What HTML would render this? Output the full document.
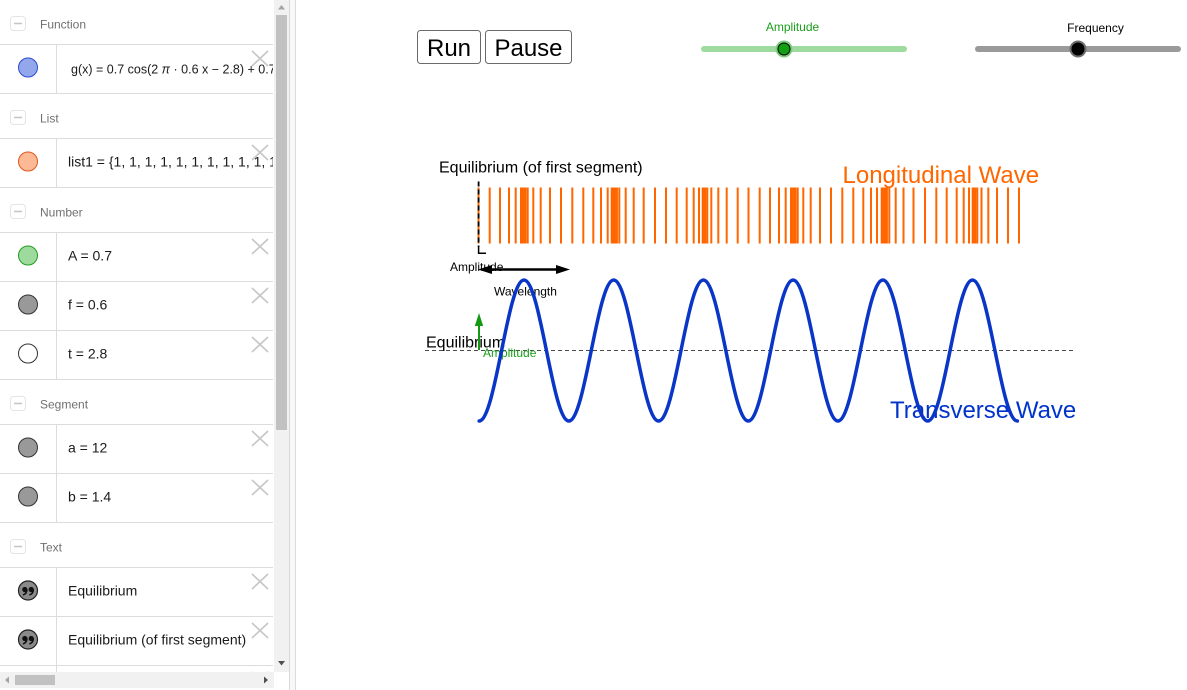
<!DOCTYPE html>
<html>
<head>
<meta charset="utf-8">
<style>
html,body{margin:0;padding:0;background:#fff;}
body{width:1187px;height:690px;overflow:hidden;position:relative;}
svg{display:block;font-family:"Liberation Sans",Arial,sans-serif;}
.hd{font-size:12px;fill:#707070;}
.it{font-size:14px;fill:#1a1a1a;}
.x{stroke:#c6c6c6;stroke-width:1.6;fill:none;}
.sep{stroke:#dcdcdc;stroke-width:1;}
</style>
</head>
<body>
<svg width="1187" height="690" viewBox="0 0 1187 690" xmlns="http://www.w3.org/2000/svg">
<rect width="1187" height="690" fill="#fff"/>
<defs>
<clipPath id="lp"><rect x="0" y="0" width="273" height="672"/></clipPath>
</defs>

<!-- LEFT PANEL -->
<g clip-path="url(#lp)">
  <!-- row separators -->
  <g class="sep">
    <line x1="0" x2="274" y1="44.5" y2="44.5"/>
    <line x1="0" x2="274" y1="93.5" y2="93.5"/>
    <line x1="0" x2="274" y1="138.5" y2="138.5"/>
    <line x1="0" x2="274" y1="187.5" y2="187.5"/>
    <line x1="0" x2="274" y1="232.5" y2="232.5"/>
    <line x1="0" x2="274" y1="281.5" y2="281.5"/>
    <line x1="0" x2="274" y1="330.5" y2="330.5"/>
    <line x1="0" x2="274" y1="379.5" y2="379.5"/>
    <line x1="0" x2="274" y1="424.5" y2="424.5"/>
    <line x1="0" x2="274" y1="473.5" y2="473.5"/>
    <line x1="0" x2="274" y1="522.5" y2="522.5"/>
    <line x1="0" x2="274" y1="567.5" y2="567.5"/>
    <line x1="0" x2="274" y1="616.5" y2="616.5"/>
    <line x1="0" x2="274" y1="665.5" y2="665.5"/>
    <!-- vertical dividers -->
    <line x1="56.5" x2="56.5" y1="44" y2="93"/>
    <line x1="56.5" x2="56.5" y1="138" y2="187"/>
    <line x1="56.5" x2="56.5" y1="232" y2="379"/>
    <line x1="56.5" x2="56.5" y1="424" y2="522"/>
    <line x1="56.5" x2="56.5" y1="567" y2="672"/>
  </g>

  <!-- headers -->
  <g>
    <rect x="10.5" y="16.5" width="15" height="14" rx="3" fill="none" stroke="#e4e4e4"/>
    <line x1="14" x2="22" y1="23.5" y2="23.5" stroke="#c4c4c4" stroke-width="1.5"/>
    <text class="hd" x="40" y="28.5">Function</text>

    <rect x="10.5" y="110.5" width="15" height="14" rx="3" fill="none" stroke="#e4e4e4"/>
    <line x1="14" x2="22" y1="117.5" y2="117.5" stroke="#c4c4c4" stroke-width="1.5"/>
    <text class="hd" x="40" y="122.5">List</text>

    <rect x="10.5" y="204.5" width="15" height="14" rx="3" fill="none" stroke="#e4e4e4"/>
    <line x1="14" x2="22" y1="211.5" y2="211.5" stroke="#c4c4c4" stroke-width="1.5"/>
    <text class="hd" x="40" y="216.5">Number</text>

    <rect x="10.5" y="396.5" width="15" height="14" rx="3" fill="none" stroke="#e4e4e4"/>
    <line x1="14" x2="22" y1="403.5" y2="403.5" stroke="#c4c4c4" stroke-width="1.5"/>
    <text class="hd" x="40" y="408.5">Segment</text>

    <rect x="10.5" y="539.5" width="15" height="14" rx="3" fill="none" stroke="#e4e4e4"/>
    <line x1="14" x2="22" y1="546.5" y2="546.5" stroke="#c4c4c4" stroke-width="1.5"/>
    <text class="hd" x="40" y="551.5">Text</text>
  </g>

  <!-- items -->
  <circle cx="28" cy="67.5" r="9.5" fill="#93a8eb" stroke="#2a4bd5" stroke-width="1"/>
  <text x="71" y="73.5" style="font-size:12.5px;fill:#1a1a1a">g(x) = 0.7 cos(2 <tspan font-style="italic">π</tspan> · 0.6 x − 2.8) + 0.7</text>
  <path class="x" d="M252 51L268 66M268 51L252 66"/>

  <circle cx="28" cy="161.5" r="9.5" fill="#fdb996" stroke="#e0581a" stroke-width="1"/>
  <text class="it" x="68" y="166.5">list1 = {1, 1, 1, 1, 1, 1, 1, 1, 1, 1, 1, 1}</text>
  <path class="x" d="M252 145L268 160M268 145L252 160"/>

  <circle cx="28" cy="255.5" r="9.5" fill="#9ed99e" stroke="#1f9f1f" stroke-width="1"/>
  <text class="it" x="68" y="260.5">A = 0.7</text>
  <path class="x" d="M252 239L268 254M268 239L252 254"/>

  <circle cx="28" cy="304.5" r="9.5" fill="#999" stroke="#333" stroke-width="1"/>
  <text class="it" x="68" y="309.5">f = 0.6</text>
  <path class="x" d="M252 288L268 303M268 288L252 303"/>

  <circle cx="28" cy="353.5" r="9.5" fill="#fff" stroke="#333" stroke-width="1"/>
  <text class="it" x="68" y="358.5">t = 2.8</text>
  <path class="x" d="M252 337L268 352M268 337L252 352"/>

  <circle cx="28" cy="447.5" r="9.5" fill="#999" stroke="#333" stroke-width="1"/>
  <text class="it" x="68" y="452.5">a = 12</text>
  <path class="x" d="M252 431L268 446M268 431L252 446"/>

  <circle cx="28" cy="496.5" r="9.5" fill="#999" stroke="#333" stroke-width="1"/>
  <text class="it" x="68" y="501.5">b = 1.4</text>
  <path class="x" d="M252 480L268 495M268 480L252 495"/>

  <!-- text items with quote icons -->
  <circle cx="28" cy="590.5" r="9.5" fill="#8a8a8a" stroke="#222" stroke-width="1.2"/>
  <circle cx="24.8" cy="589.5" r="2.6" fill="#111"/>
  <circle cx="31.2" cy="589.5" r="2.6" fill="#111"/>
  <path d="M26.9 589.5Q27 593.5 23 595M33.3 589.5Q33.4 593.5 29.4 595" stroke="#111" stroke-width="1.6" fill="none"/>
  <text class="it" x="68" y="595.5">Equilibrium</text>
  <path class="x" d="M252 574L268 589M268 574L252 589"/>

  <circle cx="28" cy="639.5" r="9.5" fill="#8a8a8a" stroke="#222" stroke-width="1.2"/>
  <circle cx="24.8" cy="638.5" r="2.6" fill="#111"/>
  <circle cx="31.2" cy="638.5" r="2.6" fill="#111"/>
  <path d="M26.9 638.5Q27 642.5 23 644M33.3 638.5Q33.4 642.5 29.4 644" stroke="#111" stroke-width="1.6" fill="none"/>
  <text class="it" x="68" y="644.5">Equilibrium (of first segment)</text>
  <path class="x" d="M252 623L268 638M268 623L252 638"/>

  <path class="x" d="M252 672L268 687M268 672L252 687"/>
</g>

<!-- vertical scrollbar -->
<rect x="274" y="0" width="15" height="672" fill="#f1f1f1"/>
<rect x="276" y="15" width="11" height="415" fill="#c1c1c1"/>
<polygon points="281.5,5 278,9.5 285,9.5" fill="#a3a3a3"/>
<polygon points="278,661 285,661 281.5,665.5" fill="#505050"/>
<!-- horizontal scrollbar -->
<rect x="0" y="672" width="274" height="16" fill="#f1f1f1"/>
<rect x="15" y="675" width="40" height="10" fill="#c1c1c1"/>
<polygon points="5,680 9,676.5 9,683.5" fill="#a3a3a3"/>
<polygon points="264,676.5 268,680 264,683.5" fill="#505050"/>
<rect x="274" y="672" width="15" height="18" fill="#fff"/>
<!-- panel border -->
<rect x="290" y="0" width="5" height="690" fill="#f8f8f8"/>
<line x1="289.5" x2="289.5" y1="0" y2="690" stroke="#d9d9d9"/>
<line x1="295.5" x2="295.5" y1="0" y2="690" stroke="#dcdcdc"/>

<!-- BUTTONS -->
<rect x="417.5" y="30.5" width="63" height="33" rx="3" fill="#fff" stroke="#6a6a6a"/>
<text x="449" y="56" text-anchor="middle" style="font-size:24px;fill:#000">Run</text>
<rect x="485.5" y="30.5" width="86" height="33" rx="3" fill="#fff" stroke="#6a6a6a"/>
<text x="528.5" y="56" text-anchor="middle" style="font-size:24px;fill:#000">Pause</text>

<!-- SLIDERS -->
<text x="792.5" y="31" text-anchor="middle" style="font-size:12px;fill:#1a9e1a">Amplitude</text>
<line x1="704" x2="904" y1="49" y2="49" stroke="#9edb9e" stroke-width="6" stroke-linecap="round"/>
<circle cx="784" cy="49" r="8.5" fill="#7fcc7f"/>
<circle cx="784" cy="49" r="6" fill="#10a010" stroke="#000" stroke-width="1"/>

<text x="1095.5" y="32" text-anchor="middle" style="font-size:12px;fill:#000">Frequency</text>
<line x1="978" x2="1178" y1="49" y2="49" stroke="#9a9a9a" stroke-width="6" stroke-linecap="round"/>
<circle cx="1078" cy="49" r="8.5" fill="#6e6e6e"/>
<circle cx="1078" cy="49" r="6" fill="#000" stroke="#000" stroke-width="1"/>

<!-- LONGITUDINAL WAVE -->
<text x="439" y="172.5" style="font-size:16px;fill:#000">Equilibrium (of first segment)</text>
<text x="842.5" y="183" style="font-size:24px;fill:#ff6600">Longitudinal Wave</text>
<path stroke="#ff6600" stroke-width="2" fill="none" d="M478.5 187.5V243.5M489.7 187.5V243.5M500 187.5V243.5M509 187.5V243.5M515.7 187.5V243.5M521 187.5V243.5M522.7 187.5V243.5M524 187.5V243.5M525.5 187.5V243.5M527.7 187.5V243.5M533.3 187.5V243.5M540.7 187.5V243.5M550 187.5V243.5M561 187.5V243.5M572.3 187.5V243.5M583.3 187.5V243.5M593.3 187.5V243.5M601 187.5V243.5M607.7 187.5V243.5M611.7 187.5V243.5M613.2 187.5V243.5M614.5 187.5V243.5M615.7 187.5V243.5M616.9 187.5V243.5M619.3 187.5V243.5M625.7 187.5V243.5M633.7 187.5V243.5M643.7 187.5V243.5M655 187.5V243.5M666 187.5V243.5M676.7 187.5V243.5M686.7 187.5V243.5M693.7 187.5V243.5M699 187.5V243.5M702.7 187.5V243.5M704 187.5V243.5M705.2 187.5V243.5M707.3 187.5V243.5M711.3 187.5V243.5M718.3 187.5V243.5M726.7 187.5V243.5M737.7 187.5V243.5M748.5 187.5V243.5M759.7 187.5V243.5M770 187.5V243.5M779 187.5V243.5M785.7 187.5V243.5M791 187.5V243.5M792.7 187.5V243.5M794 187.5V243.5M795.5 187.5V243.5M797.7 187.5V243.5M803.3 187.5V243.5M810.7 187.5V243.5M820 187.5V243.5M831 187.5V243.5M842.3 187.5V243.5M853.3 187.5V243.5M863.3 187.5V243.5M871 187.5V243.5M877 187.5V243.5M881.7 187.5V243.5M883.2 187.5V243.5M884.5 187.5V243.5M885.7 187.5V243.5M886.9 187.5V243.5M889.3 187.5V243.5M895.7 187.5V243.5M903.5 187.5V243.5M913.5 187.5V243.5M925 187.5V243.5M936.3 187.5V243.5M946.7 187.5V243.5M956.7 187.5V243.5M963.7 187.5V243.5M969 187.5V243.5M972.7 187.5V243.5M974 187.5V243.5M975.2 187.5V243.5M977.3 187.5V243.5M981.5 187.5V243.5M988.3 187.5V243.5M997 187.5V243.5M1008 187.5V243.5M1019 187.5V243.5"/>
<!-- equilibrium marker of first segment -->
<line x1="478.6" x2="478.6" y1="181.5" y2="247" stroke="#000" stroke-width="1.8" stroke-dasharray="5 3"/>
<path d="M478.6 246V253.2H486" stroke="#000" stroke-width="1.5" fill="none"/>

<!-- wavelength arrow -->
<text x="450" y="271" style="font-size:12px;fill:#000">Amplitude</text>
<line x1="488" x2="560" y1="269.5" y2="269.5" stroke="#000" stroke-width="2.5"/>
<polygon points="478,269.5 492,265 492,274" fill="#000"/>
<polygon points="570,269.5 556,265 556,274" fill="#000"/>
<text x="494" y="295.5" style="font-size:12px;fill:#000">Wavelength</text>

<!-- TRANSVERSE WAVE -->
<text x="426" y="347.5" style="font-size:16px;fill:#000">Equilibrium</text>
<line x1="425" x2="1073" y1="350.5" y2="350.5" stroke="#4a4a4a" stroke-width="1.1" stroke-dasharray="4 3"/>
<line x1="479" x2="479" y1="350" y2="324" stroke="#129a12" stroke-width="2"/>
<polygon points="479,313 474.8,326 483.2,326" fill="#129a12"/>
<text x="483" y="357" style="font-size:12px;fill:#1a9e1a">Amplitude</text>
<text x="890" y="418" style="font-size:24px;fill:#0033cc">Transverse Wave</text>
<path d="M479.15 421 C495.45 421 507.7 280 524 280 S552.55 421 568.85 421 S597.4 280 613.7 280 S642.25 421 658.55 421 S687.1 280 703.4 280 S731.95 421 748.25 421 S776.8 280 793.1 280 S821.65 421 837.95 421 S866.5 280 882.8 280 S911.35 421 927.65 421 S956.2 280 972.5 280 S1001.05 421 1017.35 421" fill="none" stroke="#0a36c8" stroke-width="3.5" stroke-linecap="round"/>
</svg>
</body>
</html>
